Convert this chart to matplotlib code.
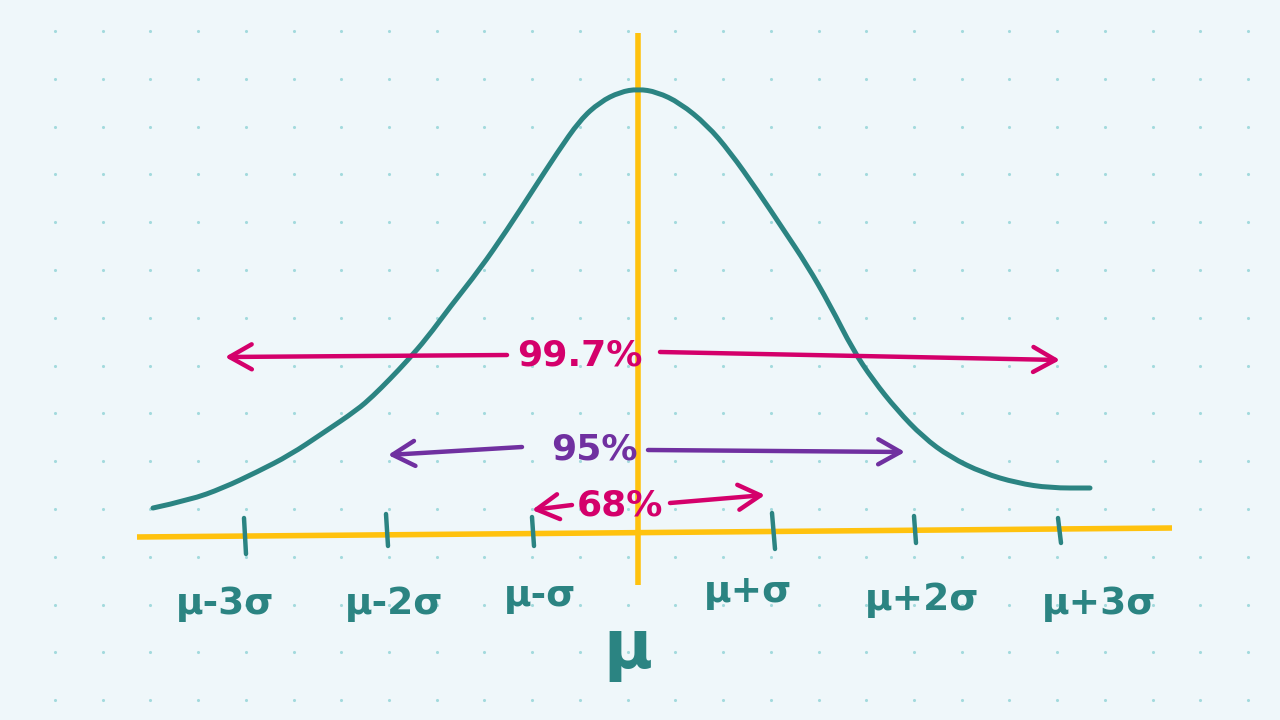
import numpy as np
import matplotlib.pyplot as plt
from matplotlib.path import Path
from matplotlib.patches import PathPatch

# colours of the sketch
BG = '#eff7fa'
DOT = '#a3dadd'
TEAL = '#2b8482'
YELLOW = '#ffc20e'
MAGENTA = '#d4006b'
PURPLE = '#7030a0'

# bell curve (pixel-like coords, y down)
curve_x = [153, 190, 223, 257, 290, 323, 357, 373, 390, 407, 427, 450, 480,
           507, 533, 557, 580, 600, 620, 638, 657, 680, 707, 730, 757, 783,
           807, 830, 853, 873, 897, 923, 950, 983, 1017, 1050, 1090]
curve_y = [508, 500, 488, 472, 455, 433, 410, 396, 379, 361, 338, 307, 269,
           230, 190, 153, 120, 102, 92, 89, 92, 103, 125, 152, 190, 229,
           265, 305, 350, 380, 410, 437, 457, 473, 483, 488, 488]

# axes lines
hax_x = [137, 1172]
hax_y = [537, 528]
vax_x = [638, 638]
vax_y = [33, 585]

# tick strokes
tick_top_x = [244, 386, 532, 772, 914, 1058]
tick_top_y = [518, 514, 517, 513, 516, 518]
tick_bot_x = [246, 388, 534, 775, 916, 1061]
tick_bot_y = [554, 546, 546, 549, 543, 543]

tick_labels = ['μ-3σ', 'μ-2σ', 'μ-σ', 'μ+σ', 'μ+2σ', 'μ+3σ']
label_x = [225, 394, 540, 748, 922, 1099]
label_y = [614, 614, 606, 602, 610, 614]

# interval arrows: (text, colour, text x, text y, left start, left tip, right start, right tip)
intervals = [
    ('99.7%', MAGENTA, 580, 355, (507, 355), (225, 357), (660, 352), (1060, 360)),
    ('95%', PURPLE, 594, 450, (522, 447), (388, 455), (648, 450), (905, 452)),
    ('68%', MAGENTA, 620, 505, (572, 505), (532, 510), (670, 503), (765, 495)),
]

fig = plt.figure(figsize=(12.8, 7.2), dpi=100, facecolor=BG)
ax = fig.add_axes([0, 0, 1, 1])
ax.set_facecolor(BG)
ax.set_xlim(0, 1280)
ax.set_ylim(720, 0)
ax.axis('off')

# dot grid
gx = 55 + 47.72 * np.arange(26)
gy = 31 + 47.8 * np.arange(15)
GX, GY = np.meshgrid(gx, gy)
ax.scatter(GX.ravel(), GY.ravel(), s=5, marker='o', c=DOT, linewidths=0, zorder=1)

# yellow axes
ax.plot(hax_x, hax_y, color=YELLOW, lw=4, solid_capstyle='butt', zorder=2)
ax.plot(vax_x, vax_y, color=YELLOW, lw=4, solid_capstyle='butt', zorder=2)

# ticks
for x0, y0, x1, y1 in zip(tick_top_x, tick_top_y, tick_bot_x, tick_bot_y):
    ax.plot([x0, x1], [y0, y1], color=TEAL, lw=3.2, solid_capstyle='round', zorder=3)

# curve: read points used as quadratic bezier controls so the stroke is smooth
pts = list(zip(curve_x, curve_y))
verts = [pts[0]]
codes = [Path.MOVETO]
for i in range(1, len(pts) - 1):
    mid = ((pts[i][0] + pts[i + 1][0]) / 2, (pts[i][1] + pts[i + 1][1]) / 2)
    verts += [pts[i], mid]
    codes += [Path.CURVE3, Path.CURVE3]
verts.append(pts[-1])
codes.append(Path.LINETO)
ax.add_patch(PathPatch(Path(verts, codes), facecolor='none', edgecolor=TEAL,
                       lw=3.6, capstyle='round', joinstyle='round', zorder=3))

# tick labels
for lab, x, y in zip(tick_labels, label_x, label_y):
    ax.text(x, y, lab, color=TEAL, fontsize=27, fontweight='bold',
            ha='center', va='baseline', zorder=4)
ax.text(628, 668, 'μ', color=TEAL, fontsize=48, fontweight='bold',
        ha='center', va='baseline', zorder=4)

# interval arrows
for txt, col, tx, ty, ls, lt, rs, rt in intervals:
    ax.text(tx, ty, txt, color=col, fontsize=26, fontweight='bold',
            ha='center', va='center', zorder=5)
    for s, t in ((ls, lt), (rs, rt)):
        ax.annotate('', xy=t, xytext=s,
                    arrowprops=dict(arrowstyle='->,head_length=1.6,head_width=0.9',
                                    color=col, lw=3.2, capstyle='round',
                                    joinstyle='round', shrinkA=0, shrinkB=0),
                    zorder=5)

fig.savefig('out.png', dpi=100, facecolor=BG)
